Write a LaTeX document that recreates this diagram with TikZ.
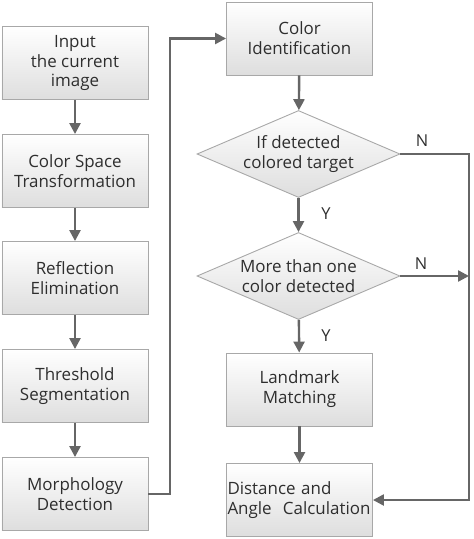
\documentclass[tikz,border=0pt]{standalone}
\usepackage{fontspec}
\setmainfont{Open Sans}
\usetikzlibrary{shapes.geometric,arrows.meta}
\definecolor{linegray}{HTML}{666666}
\definecolor{bordergray}{HTML}{A8A8A8}
\definecolor{textgray}{HTML}{2E2E2E}
\begin{document}
\begin{tikzpicture}[x=1bp,y=-1bp,
  every node/.style={font=\fontsize{17}{20}\selectfont, text=textgray},
  procbox/.style={rectangle, draw=bordergray, line width=0.9bp, top color=white, bottom color=black!13,
     minimum width=146bp, minimum height=73bp, align=center, inner sep=1bp},
  decbox/.style={diamond, aspect=2.33, draw=bordergray, line width=0.9bp, top color=white, bottom color=black!13,
     minimum width=203bp, minimum height=87bp, align=center, inner sep=0bp},
  flow/.style={draw=linegray, line width=2.4bp, -{Triangle[length=11bp,width=11bp]}},
  lbl/.style={font=\fontsize{16.5}{18}\selectfont}
]
\useasboundingbox (0,0) rectangle (474,539);
% left column
\node[procbox] (in) at (75,63) {Input\\the current\\image};
\node[procbox] (cst) at (75,171) {Color Space\\Transformation};
\node[procbox] (ref) at (75,278) {Reflection\\Elimination};
\node[procbox] (thr) at (75,386) {Threshold\\Segmentation};
\node[procbox] (mor) at (75,494) {Morphology\\Detection};
% right column
\node[procbox] (cid) at (299.5,38.5) {Color\\Identification};
\node[decbox] (d1) at (298.5,154) {If detected\\colored target};
\node[decbox] (d2) at (298.5,276) {More than one\\color detected};
\node[procbox] (lm) at (299.5,389.5) {Landmark\\Matching};
\node[procbox, text width=144bp, align=left, inner xsep=1bp] (dac) at (299.5,500) {Distance and\\Angle\ \ Calculation};
% coordinates
\coordinate (c1) at (170,494);
\coordinate (c2) at (170,38.5);
\coordinate (r1) at (469,154);
\coordinate (r2) at (469,276);
\coordinate (r3) at (469,500);
% connectors
\draw[flow] (in) -- (cst);
\draw[flow] (cst) -- (ref);
\draw[flow] (ref) -- (thr);
\draw[flow] (thr) -- (mor);
\draw[flow] (mor.east |- c1) -- (c1) -- (c2) -- (cid.west);
\draw[flow] (cid) -- (d1);
\draw[flow] (d1) -- (d2);
\draw[flow] (d2) -- (lm);
\draw[flow] (lm) -- (dac);
\draw[flow] (d1.east) -- (r1) -- (r3) -- (dac.east);
\draw[flow] (d2.east) -- (r2);
% labels
\node[lbl] (n1) at (422,141) {N};
\node[lbl] (n2) at (421,264) {N};
\node[lbl] (y1) at (326,214) {Y};
\node[lbl] (y2) at (326,336) {Y};
\end{tikzpicture}
\end{document}
